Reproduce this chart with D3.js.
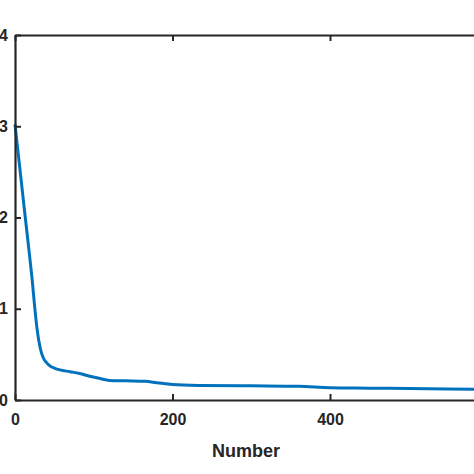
<!DOCTYPE html>
<html>
<head>
<meta charset="utf-8">
<script src="https://cdn.jsdelivr.net/npm/d3@7"></script>
<style>
html,body{margin:0;padding:0;background:#fff;overflow:hidden;}
svg{display:block;}
text{font-family:"Liberation Sans",Arial,sans-serif;font-weight:bold;fill:#262626;}
</style>
</head>
<body>
<svg id="c" width="474" height="474"></svg>
<script>
const xValues = [0, 6, 12, 18, 22, 25, 28, 32, 36, 40, 45, 50, 57, 70, 82, 95, 108, 120, 140, 165, 180, 200, 235, 300, 360, 400, 450, 500, 550, 600];
const yValues = [3.02, 2.55, 2.08, 1.62, 1.3, 1.02, 0.78, 0.57, 0.46, 0.41, 0.37, 0.35, 0.33, 0.31, 0.29, 0.26, 0.235, 0.215, 0.21, 0.205, 0.19, 0.17, 0.16, 0.155, 0.15, 0.135, 0.13, 0.125, 0.12, 0.115];
const xTicks = [0, 200, 400, 600];
const yTicks = [0, 1, 2, 3, 4];
const xLabel = "Number";

const svg = d3.select("#c");
const x = d3.scaleLinear().domain([0, 600]).range([15, 487.5]);
const y = d3.scaleLinear().domain([0, 4]).range([400, 35]);
const axisColor = "#262626";
const fmt = d3.format("d");

// line
const data = xValues.map((v, i) => [v, yValues[i]]);
svg.append("path")
  .datum(data)
  .attr("fill", "none")
  .attr("stroke", "#0072BD")
  .attr("stroke-width", 3)
  .attr("stroke-linejoin", "round")
  .attr("d", d3.line().x(d => x(d[0])).y(d => y(d[1])).curve(d3.curveMonotoneX));

// bottom axis
const gx = svg.append("g").attr("transform", `translate(0,${y(0)})`)
  .call(d3.axisBottom(x).tickValues(xTicks).tickFormat(fmt).tickSizeInner(-6).tickSizeOuter(0).tickPadding(14));
// left axis
const gy = svg.append("g").attr("transform", `translate(${x(0)},0)`)
  .call(d3.axisLeft(y).tickValues(yTicks).tickFormat(fmt).tickSizeInner(-6).tickSizeOuter(0).tickPadding(7));
// top axis
const gt = svg.append("g").attr("transform", `translate(0,${y(4)})`)
  .call(d3.axisTop(x).tickValues(xTicks).tickSizeInner(-6).tickSizeOuter(0).tickFormat(""));
// right axis
const gr = svg.append("g").attr("transform", `translate(${x(600)},0)`)
  .call(d3.axisRight(y).tickValues(yTicks).tickSizeInner(-6).tickSizeOuter(0).tickFormat(""));

[gx, gy, gt, gr].forEach(g => {
  g.select(".domain").attr("stroke", axisColor).attr("stroke-width", 2.2);
  g.selectAll(".tick line").attr("stroke", axisColor).attr("stroke-width", 2);
  g.selectAll(".tick text").attr("fill", axisColor).style("font-size", "16px").style("font-weight", "bold");
});

svg.append("text")
  .attr("x", 246)
  .attr("y", 457)
  .attr("text-anchor", "middle")
  .style("font-size", "18px")
  .text(xLabel);
</script>
</body>
</html>
